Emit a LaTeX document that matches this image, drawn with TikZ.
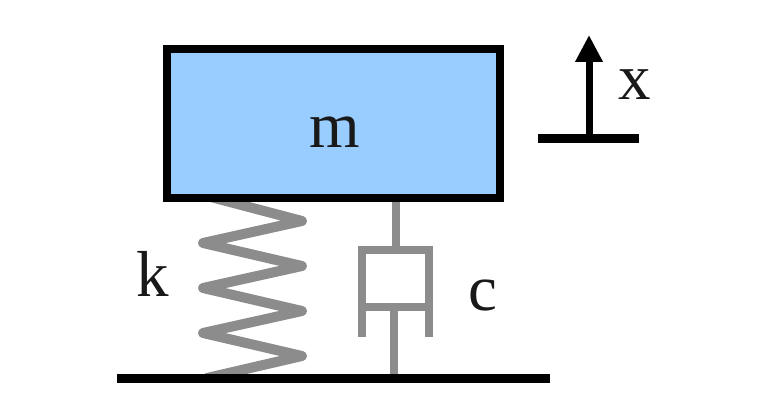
\documentclass[tikz,border=0pt]{standalone}
\usepackage{fontspec}
\setmainfont{Liberation Serif}
\usetikzlibrary{arrows.meta}
\definecolor{massblue}{HTML}{99CCFF}
\definecolor{partgray}{HTML}{8C8C8C}
\tikzset{
  massbox/.style={draw=black,fill=massblue,line width=8pt,minimum width=333pt,minimum height=149pt,inner sep=0pt,outer sep=0pt,anchor=north west},
  label/.style={font=\fontsize{65}{65}\selectfont,inner sep=0pt,anchor=base,text=black!90},
  grayline/.style={draw=partgray,line width=8.5pt},
  springline/.style={draw=partgray,line width=10pt,line join=round,line cap=round},
  blackline/.style={draw=black,line width=9pt},
  motion/.style={draw=black,line width=7pt,-{Triangle[length=27pt,width=26pt]}}
}
\begin{document}
\begin{tikzpicture}[x=1pt,y=-1pt]
\useasboundingbox (0,0) rectangle (781,419);
\fill[white] (0,0) rectangle (781,419);
% named points
\coordinate (groundL) at (117,378);
\coordinate (groundR) at (550,378);
\coordinate (rodTop) at (396,198);
\coordinate (cupTop) at (396,250);
\coordinate (cupTL) at (362,250);
\coordinate (cupTR) at (429,250);
\coordinate (cupBL) at (362,337);
\coordinate (cupBR) at (429,337);
\coordinate (pistonL) at (362,307);
\coordinate (pistonR) at (429,307);
\coordinate (pistonC) at (394,307);
\coordinate (rodEnd) at (394,378);
\coordinate (springTop) at (207,196);
\coordinate (springEnd) at (207,378);
\coordinate (xBaseL) at (538,139);
\coordinate (xBaseR) at (639,139);
\coordinate (xStem) at (589,139);
\coordinate (xTip) at (589,35);
% spring
\draw[springline] (springTop) -- (302,221) -- (203,243) -- (302,266) -- (203,288) -- (302,311) -- (203,333) -- (302,356) -- (springEnd);
% damper
\draw[grayline] (rodTop) -- (cupTop);
\draw[grayline,line join=miter] (cupBL) -- (cupTL) -- (cupTR) -- (cupBR);
\draw[grayline] (pistonL) -- (pistonR);
\draw[grayline] (pistonC) -- (rodEnd);
% ground
\draw[blackline] (groundL) -- (groundR);
% mass
\node[massbox] (mass) at (167,49) {};
\node[label] (mlabel) at (335,148) {m};
\node[label] (klabel) at (153,297) {k};
\node[label] (clabel) at (483,310) {c};
\node[label] (xlabel) at (635,100) {x};
% motion indicator
\draw[blackline] (xBaseL) -- (xBaseR);
\draw[motion] (xStem) -- (xTip);
\end{tikzpicture}
\end{document}
